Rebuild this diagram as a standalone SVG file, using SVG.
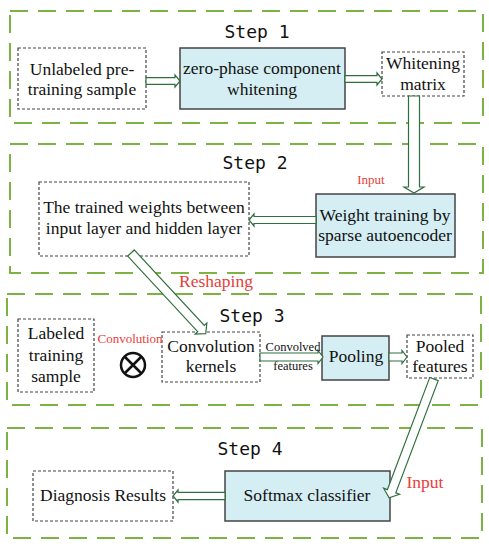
<svg xmlns="http://www.w3.org/2000/svg" width="489" height="550" viewBox="0 0 489 550">
<style>
.step{fill:none;stroke:#7cb342;stroke-width:2;stroke-dasharray:18 10}
.nd{fill:#fff;stroke:#444;stroke-width:1.2;stroke-dasharray:3 2}
.nb{fill:#d4eef3;stroke:#444;stroke-width:1.5}
.t{font-family:"Liberation Serif","Times New Roman",serif;font-size:17.5px;fill:#111;text-anchor:middle}
.st{font-family:"DejaVu Sans Mono","Liberation Mono",monospace;font-size:18px;fill:#111;text-anchor:middle}
.r{font-family:"Liberation Serif","Times New Roman",serif;fill:#e8403a;text-anchor:middle}
.s{font-family:"Liberation Serif","Times New Roman",serif;font-size:12.5px;fill:#111;text-anchor:middle}
.ar{fill:#fff;stroke:#2f6f3f;stroke-width:1.2;stroke-linejoin:miter}
</style>
<rect width="489" height="550" fill="#fff"/>
<g id="steps">
<rect class="step" x="10" y="11" width="473" height="112"/>
<rect class="step" x="10" y="144" width="473" height="129"/>
<rect class="step" x="7" y="294" width="474" height="111"/>
<rect class="step" x="7" y="428" width="475" height="110"/>
<text class="st" x="257" y="38">Step 1</text>
<text class="st" x="255" y="169">Step 2</text>
<text class="st" x="252" y="322">Step 3</text>
<text class="st" x="250" y="455">Step 4</text>
</g>
<g id="unlabeled">
<rect class="nd" x="18" y="48" width="128" height="61"/>
<text class="t" x="82" y="75">Unlabeled pre-</text>
<text class="t" x="82" y="95">training sample</text>
</g>
<g id="zca">
<rect class="nb" x="180" y="48" width="165" height="61"/>
<text class="t" x="262" y="74">zero-phase component</text>
<text class="t" x="262" y="95">whitening</text>
</g>
<g id="whitening">
<rect class="nd" x="382" y="52" width="82" height="44"/>
<text class="t" x="423" y="69">Whitening</text>
<text class="t" x="423" y="90">matrix</text>
</g>
<g id="weights">
<rect class="nd" x="39" y="182" width="210" height="74"/>
<text class="t" x="144" y="213">The trained weights between</text>
<text class="t" x="144" y="234">input layer and hidden layer</text>
</g>
<g id="sae">
<rect class="nb" x="316" y="194" width="139" height="63"/>
<text class="t" x="385" y="221">Weight training by</text>
<text class="t" x="385" y="241">sparse autoencoder</text>
</g>
<g id="labeled">
<rect class="nd" x="18" y="319" width="76" height="73"/>
<text class="t" x="56" y="339">Labeled</text>
<text class="t" x="56" y="361">training</text>
<text class="t" x="56" y="382">sample</text>
</g>
<g id="otimes">
<circle cx="133" cy="365" r="12" fill="none" stroke="#111" stroke-width="2.5"/>
<path d="M124.5 356.5 L141.5 373.5 M141.5 356.5 L124.5 373.5" stroke="#111" stroke-width="2.5"/>
</g>
<g id="kernels">
<rect class="nd" x="162" y="332" width="98" height="50"/>
<text class="t" x="211" y="352">Convolution</text>
<text class="t" x="211" y="372">kernels</text>
</g>
<g id="pooling">
<rect class="nb" x="322" y="336" width="67" height="44"/>
<text class="t" x="356" y="362">Pooling</text>
</g>
<g id="pooled">
<rect class="nd" x="407" y="335" width="66" height="43"/>
<text class="t" x="440" y="352">Pooled</text>
<text class="t" x="440" y="372">features</text>
</g>
<g id="softmax">
<rect class="nb" x="225" y="471" width="165" height="50"/>
<text class="t" x="307" y="501">Softmax classifier</text>
</g>
<g id="diagnosis">
<rect class="nd" x="33" y="471" width="140" height="50"/>
<text class="t" x="103" y="501">Diagnosis Results</text>
</g>
<g id="connectors">
<polygon class="ar" transform="translate(146,81)" points="0,-3.3 29,-3.3 29,-6 34,0 29,6 29,3.3 0,3.3"/>
<polygon class="ar" transform="translate(345,79)" points="0,-3.3 32,-3.3 32,-6 37,0 32,6 32,3.3 0,3.3"/>
<polygon class="ar" transform="translate(414,96) rotate(90)" points="0,-5.5 91,-5.5 91,-10 97,0 91,10 91,5.5 0,5.5"/>
<polygon class="ar" transform="translate(316,220) rotate(180)" points="0,-3.5 62,-3.5 62,-6 67,0 62,6 62,3.5 0,3.5"/>
<polygon class="ar" transform="translate(131,253) rotate(47.2)" points="0,-4.5 103,-4.5 103,-8 110,0 103,8 103,4.5 0,4.5"/>
<polygon class="ar" transform="translate(260,357)" points="0,-4 58,-4 58,-6.5 63,0 58,6.5 58,4 0,4"/>
<polygon class="ar" transform="translate(389,357)" points="0,-4 13,-4 13,-6.5 18,0 13,6.5 13,4 0,4"/>
<polygon class="ar" transform="translate(434,379) rotate(110.7)" points="0,-4.5 120,-4.5 120,-8.5 127,0 120,8.5 120,4.5 0,4.5"/>
<polygon class="ar" transform="translate(225,496) rotate(180)" points="0,-3.7 47,-3.7 47,-6 52,0 47,6 47,3.7 0,3.7"/>
<text class="r" x="371" y="184" font-size="13">Input</text>
<text class="r" x="216" y="287" font-size="17.5">Reshaping</text>
<text class="r" x="130" y="343" font-size="13">Convolution</text>
<text class="s" x="293" y="351">Convolved</text>
<text class="s" x="293" y="370">features</text>
<text class="r" x="425" y="488" font-size="17.5">Input</text>
</g>
</svg>
